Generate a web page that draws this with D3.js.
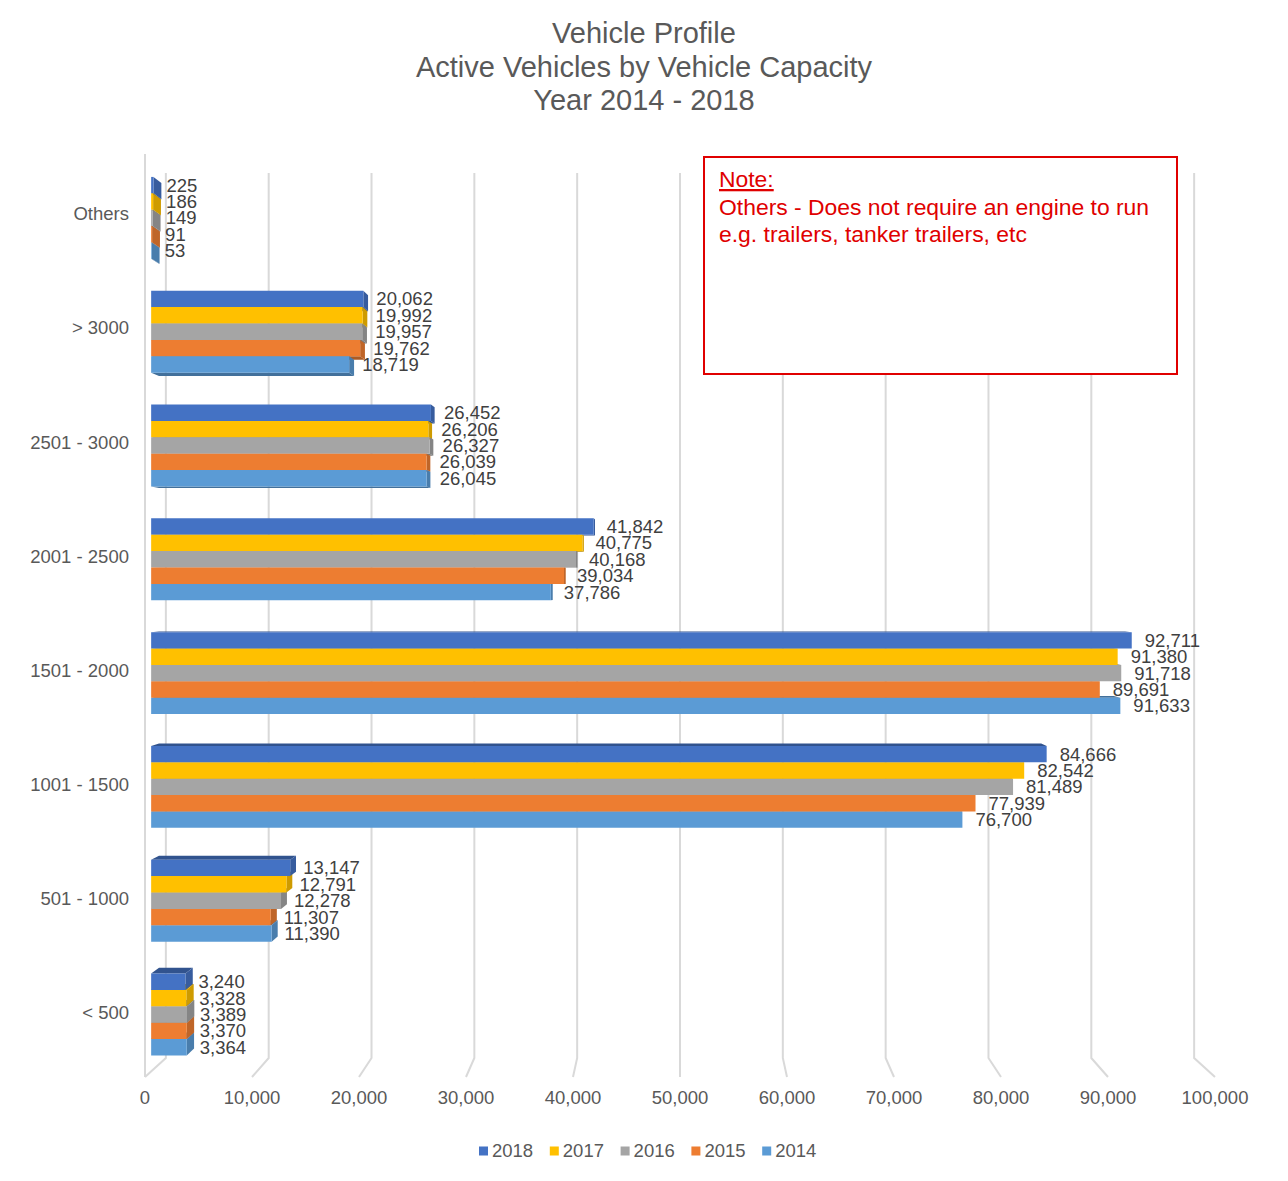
<!DOCTYPE html>
<html>
<head>
<meta charset="utf-8">
<title>Vehicle Profile</title>
<script src="https://d3js.org/d3.v7.min.js"></script>
<style>
  body { margin: 0; background: #fff; }
  svg text { font-family: "Liberation Sans", Arial, sans-serif; }
</style>
</head>
<body>
<svg width="1288" height="1181"></svg>
<script>
// chart data
var categories = ["Others", "> 3000", "2501 - 3000", "2001 - 2500", "1501 - 2000", "1001 - 1500", "501 - 1000", "< 500"];
var years = ["2018", "2017", "2016", "2015", "2014"];
var v2018 = [225, 20062, 26452, 41842, 92711, 84666, 13147, 3240];
var v2017 = [186, 19992, 26206, 40775, 91380, 82542, 12791, 3328];
var v2016 = [149, 19957, 26327, 40168, 91718, 81489, 12278, 3389];
var v2015 = [91, 19762, 26039, 39034, 89691, 77939, 11307, 3370];
var v2014 = [53, 18719, 26045, 37786, 91633, 76700, 11390, 3364];
var tickValues = [0, 10000, 20000, 30000, 40000, 50000, 60000, 70000, 80000, 90000, 100000];
var colors = ["#4472C4", "#FFC000", "#A5A5A5", "#ED7D31", "#5B9BD5"];

var series = [v2018, v2017, v2016, v2015, v2014];

var svg = d3.select("svg");

// perspective: front plane coords pulled toward a vanishing point by depth t
var VX = 680, VY = 590;
var T_BACK = 0.039, D1 = 0.0115, D2 = 0.0262;
function proj(x0, y0, t) { return [x0 + t * (VX - x0), y0 + t * (VY - y0)]; }

var x = d3.scaleLinear().domain([0, 100000]).range([145, 1215]);
var y = d3.scaleBand().domain(categories).range([156, 1077]).paddingInner(0.28).paddingOuter(0.14);
var yy = d3.scaleBand().domain(years).range([0, y.bandwidth()]);

// gridlines (back wall + floor slant)
var grid = svg.append("g");
grid.append("line")
    .attr("x1", x(0)).attr("x2", x(0)).attr("y1", 154).attr("y2", 1077)
    .attr("stroke", "#d9d9d9").attr("stroke-width", 2);
tickValues.forEach(function(v) {
  var a = proj(x(v), 156, T_BACK), b = proj(x(v), 1077, T_BACK);
  grid.append("path")
      .attr("d", "M" + a + "L" + b + "L" + [x(v), 1077])
      .attr("fill", "none").attr("stroke", "#d9d9d9").attr("stroke-width", 2);
});

svg.append("g").selectAll("text")
  .data(tickValues)
  .enter().append("text")
    .attr("x", function(d) { return x(d); })
    .attr("y", 1098).attr("dy", "0.35em")
    .attr("text-anchor", "middle")
    .attr("font-size", "18.5px").attr("fill", "#595959")
    .text(d3.format(","));

// category labels
svg.append("g").selectAll("text")
  .data(categories)
  .enter().append("text")
    .attr("x", 129)
    .attr("y", function(d, i) { return proj(0, y(d) + y.bandwidth() / 2, D1)[1] - 4 + i * 0.3; })
    .attr("dy", "0.35em")
    .attr("text-anchor", "end")
    .attr("font-size", "18.5px").attr("fill", "#595959")
    .text(function(d) { return d; });

// build bars
var bars = [];
categories.forEach(function(c, ci) {
  years.forEach(function(yr, si) {
    var top = y(c) + yy(yr), bot = top + yy.bandwidth();
    bars.push({cat: c, year: yr, v: series[si][ci], color: colors[si], top: top, bot: bot});
  });
});
bars.sort(function(a, b) {
  return Math.abs((b.top + b.bot) / 2 - VY) - Math.abs((a.top + a.bot) / 2 - VY);
});

var gb = svg.append("g");
bars.forEach(function(d) {
  var xl = x(0), xr = x(d.v);
  var fTL = proj(xl, d.top, D1), fTR = proj(xr, d.top, D1), fBR = proj(xr, d.bot, D1), fBL = proj(xl, d.bot, D1);
  var bTL = proj(xl, d.top, D2), bTR = proj(xr, d.top, D2), bBR = proj(xr, d.bot, D2), bBL = proj(xl, d.bot, D2);
  var dark = d3.color(d.color).darker(0.9).toString();
  var mid = d3.color(d.color).darker(0.6).toString();
  var poly = function(pts, fill) {
    gb.append("path").attr("d", "M" + pts.join("L") + "Z").attr("fill", fill);
  };
  if (d.top > VY) poly([fTL, fTR, bTR, bTL], dark);
  if (d.bot < VY) poly([fBL, fBR, bBR, bBL], dark);
  if (fTR[0] < VX) poly([fTR, bTR, bBR, fBR], mid);
  poly([fTL, fTR, fBR, fBL], d.color);
});

// value labels
svg.append("g").selectAll("text")
  .data(bars)
  .enter().append("text")
    .attr("x", function(d) { return proj(x(d.v), 0, D1)[0] + 13; })
    .attr("y", function(d) { return proj(0, (d.top + d.bot) / 2, D1)[1]; })
    .attr("dy", "0.35em")
    .attr("font-size", "18.5px").attr("fill", "#404040")
    .text(function(d) { return d3.format(",")(d.v); });

// title
var titles = ["Vehicle Profile", "Active Vehicles by Vehicle Capacity", "Year 2014 - 2018"];
svg.append("g").selectAll("text")
  .data(titles)
  .enter().append("text")
    .attr("x", 644)
    .attr("y", function(d, i) { return 33 + i * 33.5; })
    .attr("dy", "0.35em")
    .attr("text-anchor", "middle")
    .attr("font-size", "29px").attr("fill", "#595959")
    .text(function(d) { return d; });

// note box
var note = svg.append("g");
note.append("rect")
    .attr("x", 704).attr("y", 157).attr("width", 473).attr("height", 217)
    .attr("fill", "#fff").attr("stroke", "#e00000").attr("stroke-width", 2);
var noteLines = ["Note:", "Others - Does not require an engine to run", "e.g. trailers, tanker trailers, etc"];
note.selectAll("text")
  .data(noteLines)
  .enter().append("text")
    .attr("x", 719)
    .attr("y", function(d, i) { return 179 + i * 27.5; })
    .attr("dy", "0.35em")
    .attr("font-size", "22.9px").attr("fill", "#e00000")
    .attr("text-decoration", function(d, i) { return i === 0 ? "underline" : null; })
    .text(function(d) { return d; });

// legend
var lg = svg.append("g").selectAll("g")
  .data(years)
  .enter().append("g")
    .attr("transform", function(d, i) { return "translate(" + (479 + i * 70.8) + ",1151)"; });
lg.append("rect")
    .attr("x", 0).attr("y", -4.5).attr("width", 9).attr("height", 9)
    .attr("fill", function(d, i) { return colors[i]; });
lg.append("text")
    .attr("x", 13).attr("dy", "0.35em")
    .attr("font-size", "18.5px").attr("fill", "#595959")
    .text(function(d) { return d; });
</script>
</body>
</html>
